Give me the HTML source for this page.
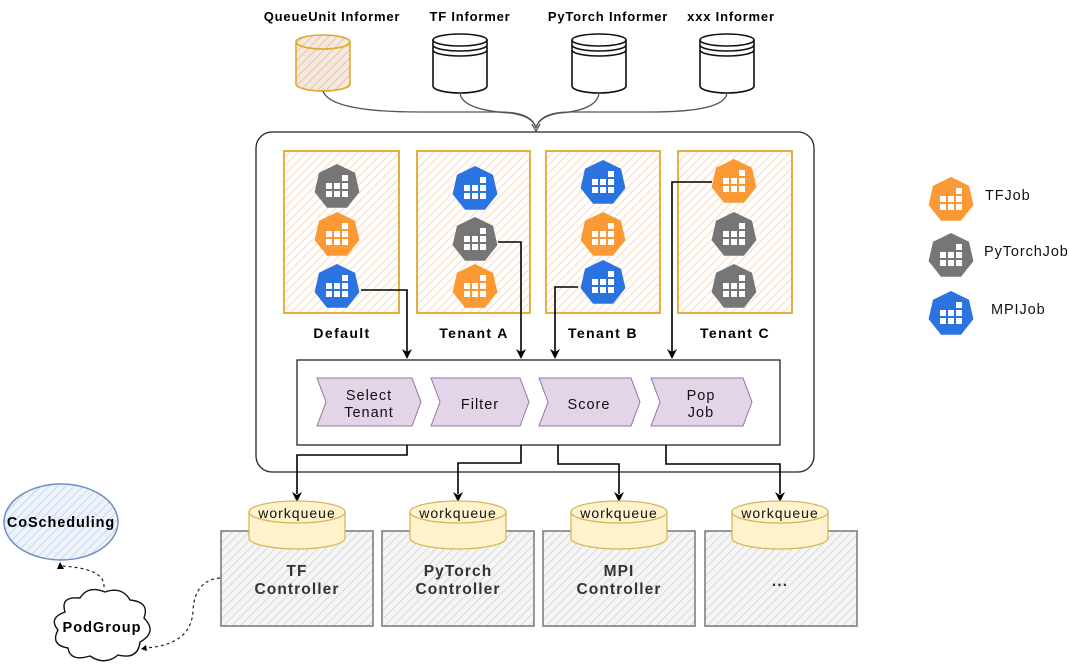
<!DOCTYPE html>
<html><head><meta charset="utf-8"><style>
html,body{margin:0;padding:0;background:#fff;}
svg{display:block;font-family:"Liberation Sans",Arial,sans-serif;}
</style></head><body>
<svg width="1080" height="664" viewBox="0 0 1080 664" xmlns="http://www.w3.org/2000/svg">
<defs>
<pattern id="ho" width="6" height="6" patternUnits="userSpaceOnUse" patternTransform="rotate(45)"><rect width="6" height="6" fill="#fff"/><line x1="0" y1="0" x2="0" y2="6" stroke="#fbd9bd" stroke-width="2"/></pattern>
<pattern id="hg" width="6" height="6" patternUnits="userSpaceOnUse" patternTransform="rotate(45)"><rect width="6" height="6" fill="#f5f5f5"/><line x1="0" y1="0" x2="0" y2="6" stroke="#d0d0d0" stroke-width="1.5"/></pattern>
<pattern id="hb" width="6" height="6" patternUnits="userSpaceOnUse" patternTransform="rotate(45)"><rect width="6" height="6" fill="#eef3fb"/><line x1="0" y1="0" x2="0" y2="6" stroke="#b9cdee" stroke-width="1.5"/></pattern>
<pattern id="hq" width="6" height="6" patternUnits="userSpaceOnUse" patternTransform="rotate(45)"><rect width="6" height="6" fill="#f6e8dc"/><line x1="0" y1="0" x2="0" y2="6" stroke="#d8b9a0" stroke-width="1.5"/></pattern>
<g id="ic">
<polygon points="0,-21 18,-12.3 22.4,7.1 10,22.7 -10,22.7 -22.4,7.1 -18,-12.3"/>
<g fill="#fff"><rect x="-11" y="-2" width="6" height="6"/><rect x="-3" y="-2" width="6" height="6"/><rect x="5" y="-2" width="6" height="6"/><rect x="-11" y="6" width="6" height="6"/><rect x="-3" y="6" width="6" height="6"/><rect x="5" y="6" width="6" height="6"/><rect x="5" y="-10" width="6" height="6"/></g>
</g>
<path id="ah" d="M-5,-10 L0,0 L5,-10 L0,-7 Z" fill="#000"/>
</defs>

<!-- informer labels -->
<g font-weight="bold" font-size="13" letter-spacing="0.8" text-anchor="middle" fill="#000">
<text x="332" y="21">QueueUnit Informer</text>
<text x="470" y="21">TF Informer</text>
<text x="608" y="21">PyTorch Informer</text>
<text x="731" y="21">xxx Informer</text>
</g>
<!-- cylinders -->
<g stroke-width="1.6">
<path d="M296,42 L296,84 A27,7 0 0 0 350,84 L350,42" fill="url(#hq)" stroke="#e0a82e"/>
<ellipse cx="323" cy="42" rx="27" ry="7" fill="url(#hq)" stroke="#e0a82e"/>
<path d="M433,40 L433,86 A27,7 0 0 0 487,86 L487,40" fill="#fff" stroke="#111"/>
<ellipse cx="460" cy="40" rx="27" ry="6" fill="#fff" stroke="#111"/>
<path d="M433,45 A27,6 0 0 0 487,45 M433,50 A27,6 0 0 0 487,50" fill="none" stroke="#111"/>
<path d="M572,40 L572,86 A27,7 0 0 0 626,86 L626,40" fill="#fff" stroke="#111"/>
<ellipse cx="599" cy="40" rx="27" ry="6" fill="#fff" stroke="#111"/>
<path d="M572,45 A27,6 0 0 0 626,45 M572,50 A27,6 0 0 0 626,50" fill="none" stroke="#111"/>
<path d="M700,40 L700,86 A27,7 0 0 0 754,86 L754,40" fill="#fff" stroke="#111"/>
<ellipse cx="727" cy="40" rx="27" ry="6" fill="#fff" stroke="#111"/>
<path d="M700,45 A27,6 0 0 0 754,45 M700,50 A27,6 0 0 0 754,50" fill="none" stroke="#111"/>
</g>
<!-- converging curves -->
<g fill="none" stroke="#555" stroke-width="1.3">
<path d="M323,91 Q330,112 420,112 L500,112 Q532,112 536,128"/>
<path d="M460,93 Q462,110 510,113 Q533,116 536,128"/>
<path d="M599,93 Q597,110 560,113 Q539,116 536,128"/>
<path d="M727,93 Q725,112 650,112 L570,112 Q540,112 536,128"/>
</g>
<path d="M532,124 L536,131 L540,124" fill="none" stroke="#555" stroke-width="1.3"/>

<!-- main box -->
<rect x="256" y="132" width="558" height="340" rx="16" fill="#fff" stroke="#222" stroke-width="1.3"/>

<!-- tenant boxes -->
<g fill="url(#ho)" stroke="#e0a82e" stroke-width="1.8">
<rect x="284" y="151" width="115" height="162"/>
<rect x="417" y="151" width="113" height="162"/>
<rect x="546" y="151" width="114" height="162"/>
<rect x="678" y="151" width="114" height="162"/>
</g>
<g font-weight="bold" font-size="14" letter-spacing="1.4" text-anchor="middle" fill="#000">
<text x="342" y="338">Default</text>
<text x="474" y="338">Tenant A</text>
<text x="603" y="338">Tenant B</text>
<text x="735" y="338">Tenant C</text>
</g>
<!-- icons -->
<use href="#ic" x="337" y="185" fill="#767676"/>
<use href="#ic" x="337" y="233" fill="#fb9a35"/>
<use href="#ic" x="337" y="285" fill="#2b73e0"/>
<use href="#ic" x="475" y="187" fill="#2b73e0"/>
<use href="#ic" x="475" y="238" fill="#767676"/>
<use href="#ic" x="475" y="285" fill="#fb9a35"/>
<use href="#ic" x="603" y="181" fill="#2b73e0"/>
<use href="#ic" x="603" y="233" fill="#fb9a35"/>
<use href="#ic" x="603" y="281" fill="#2b73e0"/>
<use href="#ic" x="734" y="180" fill="#fb9a35"/>
<use href="#ic" x="734" y="233" fill="#767676"/>
<use href="#ic" x="734" y="285" fill="#767676"/>

<!-- connectors into pipeline -->
<g fill="none" stroke="#000" stroke-width="1.6">
<path d="M361,290 L407,290 L407,352"/>
<path d="M498,242 L521,242 L521,352"/>
<path d="M578,287 L555,287 L555,352"/>
<path d="M712,182 L672,182 L672,352"/>
</g>
<use href="#ah" x="407" y="359"/><use href="#ah" x="521" y="359"/><use href="#ah" x="555" y="359"/><use href="#ah" x="672" y="359"/>

<!-- pipeline -->
<rect x="297" y="360" width="483" height="85" fill="#fff" stroke="#222" stroke-width="1.3"/>
<g fill="#e1d5e7" stroke="#9673a6" stroke-width="1">
<polygon points="317,378 412,378 421,402 412,426 317,426 326,402"/>
<polygon points="431,378 520,378 529,402 520,426 431,426 440,402"/>
<polygon points="539,378 631,378 640,402 631,426 539,426 548,402"/>
<polygon points="651,378 743,378 752,402 743,426 651,426 660,402"/>
</g>
<g font-size="14.5" letter-spacing="1" text-anchor="middle" fill="#111">
<text x="369" y="400">Select</text><text x="369" y="417">Tenant</text>
<text x="480" y="409">Filter</text>
<text x="589" y="409">Score</text>
<text x="701" y="400">Pop</text><text x="701" y="417">Job</text>
</g>
<!-- outputs -->
<g fill="none" stroke="#000" stroke-width="1.6">
<path d="M407,445 L407,455 L297,455 L297,494"/>
<path d="M521,445 L521,463 L458,463 L458,494"/>
<path d="M558,445 L558,464 L619,464 L619,494"/>
<path d="M666,445 L666,464 L780,464 L780,494"/>
</g>
<use href="#ah" x="297" y="502"/><use href="#ah" x="458" y="502"/><use href="#ah" x="619" y="502"/><use href="#ah" x="780" y="502"/>

<!-- controllers -->
<g fill="url(#hg)" stroke="#777" stroke-width="1.5">
<rect x="221" y="531" width="152" height="95"/>
<rect x="382" y="531" width="152" height="95"/>
<rect x="543" y="531" width="152" height="95"/>
<rect x="705" y="531" width="152" height="95"/>
</g>
<g font-weight="bold" font-size="15.5" letter-spacing="1.1" text-anchor="middle" fill="#333">
<text x="297" y="576">TF</text><text x="297" y="594">Controller</text>
<text x="458" y="576">PyTorch</text><text x="458" y="594">Controller</text>
<text x="619" y="576">MPI</text><text x="619" y="594">Controller</text>
<text x="780" y="586">...</text>
</g>
<!-- workqueues -->
<g fill="#fff2cc" stroke="#d6b656" stroke-width="1.3">
<path d="M249,512 L249,538 A48,11 0 0 0 345,538 L345,512 Z"/><ellipse cx="297" cy="512" rx="48" ry="11"/>
<path d="M410,512 L410,538 A48,11 0 0 0 506,538 L506,512 Z"/><ellipse cx="458" cy="512" rx="48" ry="11"/>
<path d="M571,512 L571,538 A48,11 0 0 0 667,538 L667,512 Z"/><ellipse cx="619" cy="512" rx="48" ry="11"/>
<path d="M732,512 L732,538 A48,11 0 0 0 828,538 L828,512 Z"/><ellipse cx="780" cy="512" rx="48" ry="11"/>
</g>
<g font-size="14" letter-spacing="1" text-anchor="middle" fill="#111">
<text x="297" y="518">workqueue</text><text x="458" y="518">workqueue</text>
<text x="619" y="518">workqueue</text><text x="780" y="518">workqueue</text>
</g>

<!-- CoScheduling -->
<ellipse cx="61" cy="522" rx="57" ry="38" fill="url(#hb)" stroke="#6c8ebf" stroke-width="1.5"/>
<text x="61" y="527" font-weight="bold" font-size="14.5" letter-spacing="0.9" text-anchor="middle" fill="#000">CoScheduling</text>
<!-- PodGroup cloud -->
<path d="M65,612 Q60,596 80,598 Q88,585 105,592 Q122,586 130,600 Q150,602 144,618 Q158,632 140,642 Q138,660 118,655 Q105,666 90,656 Q70,662 68,648 Q50,645 58,630 Q48,618 65,612 Z" fill="#fff" stroke="#111" stroke-width="1.4"/>
<text x="102" y="632" font-weight="bold" font-size="14.5" letter-spacing="1" text-anchor="middle" fill="#000">PodGroup</text>
<g fill="none" stroke="#222" stroke-width="1.2" stroke-dasharray="3,3">
<path d="M104,587 Q105,568 60,566"/>
<path d="M220,578 Q195,580 193,610 Q192,645 145,648"/>
</g>
<path d="M57,569 L60,562 L64,569 Z" fill="#000"/>
<path d="M146,645 L141,649 L147,651 Z" fill="#000"/>

<!-- legend -->
<use href="#ic" x="951" y="198" fill="#fb9a35"/>
<use href="#ic" x="951" y="254" fill="#767676"/>
<use href="#ic" x="951" y="312" fill="#2b73e0"/>
<g font-size="14.5" letter-spacing="0.9" fill="#111">
<text x="985" y="200">TFJob</text>
<text x="984" y="256">PyTorchJob</text>
<text x="991" y="314">MPIJob</text>
</g>
</svg>
</body></html>
